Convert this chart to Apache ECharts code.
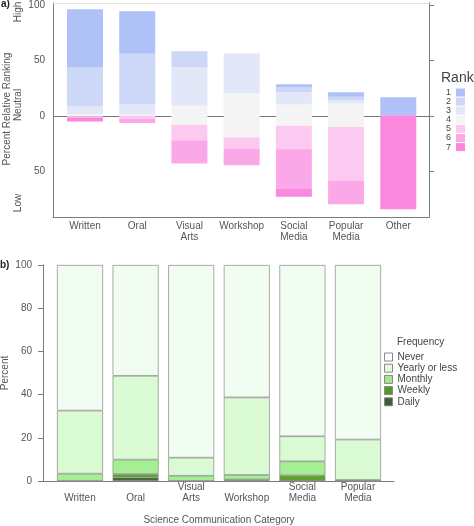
<!DOCTYPE html>
<html>
<head>
<meta charset="utf-8">
<script src="https://cdn.jsdelivr.net/npm/echarts@6/dist/echarts.min.js"></script>
<style>
  html, body { margin: 0; padding: 0; background: #fff; }
  #chart { width: 474px; height: 526px; }
</style>
</head>
<body>
<div id="chart"></div>
<script>
// a) relative ranking, percent of respondents per rank
const rankCats = ['Written', 'Oral', 'Visual\nArts', 'Workshop', 'Social\nMedia', 'Popular\nMedia', 'Other']
const rank1 = [52, 38, 0, 0, 3, 4, 16]
const rank2 = [34.6, 45, 14, 0, 3.9, 3, 0]
const rank3 = [7, 9.3, 34.6, 35.6, 11.3, 3, 0]
const rank4 = [2, 1, 17, 39.4, 19, 21, 0]
const rank5 = [0.6, 2.5, 14, 10.4, 21, 48, 0]
const rank6 = [0.5, 4, 20.8, 14.6, 35, 21, 0]
const rank7 = [3.5, 0, 0, 0, 7.5, 0, 84]
const rankTicks = [-50, 0, 50, 100]

// b) frequency of use, percent
const freqCats = ['Written', 'Oral', 'Visual\nArts', 'Workshop', 'Social\nMedia', 'Popular\nMedia']
const daily = [0, 1.7, 0, 0.3, 0, 0]
const weekly = [0, 1.5, 0, 0.4, 2.6, 0]
const monthly = [3.4, 6.7, 2.4, 2.1, 6.5, 0.5]
const yearly = [29.2, 38.8, 8.4, 35.9, 11.6, 18.7]
const never = [67.4, 51.3, 89.2, 61.3, 79.3, 80.8]

const FONT = 'Liberation Sans, Arial, sans-serif'
const TXT = '#555'
const AXC = '#7a7a7a'
const RANKC = ['#afc1f6', '#cdd7f7', '#e3e8f9', '#f4f4f4', '#fccaf0', '#fba8e8', '#fa88de']
const FREQC = { Never: '#f1fdf0', 'Yearly or less': '#dafad3', Monthly: '#a6ee94', Weekly: '#5ea32c', Daily: '#3f6b2f' }

const RMIN = -91
const RMAX = 102

function rankSeries(name, arr, color, sign) {
  return {
    name,
    type: 'bar',
    xAxisIndex: 1,
    yAxisIndex: 2,
    stack: 'rank',
    barWidth: 36,
    itemStyle: { color },
    data: arr.map(v => sign * v),
  }
}

function freqSeries(name, arr) {
  return {
    name,
    type: 'bar',
    xAxisIndex: 3,
    yAxisIndex: 4,
    stack: 'freq',
    barWidth: 46,
    itemStyle: { color: FREQC[name], borderColor: '#888', borderWidth: 0.7 },
    data: arr,
  }
}

function gtext(text, x, y, opts) {
  const el = {
    type: 'text',
    x, y,
    silent: true,
    style: Object.assign({
      text, fill: TXT, font: '10px ' + FONT, align: 'center', verticalAlign: 'middle',
    }, (opts && opts.style) || {}),
  }
  if (opts && opts.rotation) el.rotation = opts.rotation
  return el
}

const hiddenY = (gridIndex, min, max) => ({
  type: 'value', gridIndex, min, max, show: false, splitLine: { show: false },
})

const option = {
  animation: false,
  textStyle: { fontFamily: FONT },
  grid: [
    { left: 53, top: 1, width: 376, height: 216 },      // frame a
    { left: 58.9, top: 1, width: 365.5, height: 216 },  // bars a
    { left: 43, top: 265, width: 351, height: 216 },    // frame b
    { left: 52.2, top: 265, width: 333.6, height: 216 },// bars b
  ],
  xAxis: [
    {
      type: 'value', gridIndex: 0, min: 0, max: 1, position: 'bottom',
      splitLine: { show: false },
      axisLine: { show: true, onZero: false, lineStyle: { color: AXC } },
      axisTick: { show: false },
      axisLabel: { show: false },
    },
    {
      type: 'category', gridIndex: 1, data: rankCats, position: 'bottom',
      axisLine: { show: false, onZero: false },
      axisTick: { show: false },
      axisLabel: { color: TXT, fontSize: 10, lineHeight: 11, margin: 4, interval: 0 },
    },
    {
      type: 'value', gridIndex: 2, min: 0, max: 1, position: 'bottom',
      splitLine: { show: false },
      axisLine: { show: true, onZero: false, lineStyle: { color: AXC } },
      axisTick: { show: false },
      axisLabel: { show: false },
    },
    {
      type: 'category', gridIndex: 3, data: freqCats, position: 'bottom',
      axisLine: { show: false, onZero: false },
      axisTick: { show: false },
      axisLabel: {
        color: TXT, fontSize: 10, lineHeight: 11, margin: 23, verticalAlign: 'bottom', interval: 0,
      },
    },
    {
      type: 'value', gridIndex: 0, min: 0, max: 1, position: 'top',
      splitLine: { show: false },
      axisLine: { show: true, onZero: false, lineStyle: { color: '#e4e4e4' } },
      axisTick: { show: false },
      axisLabel: { show: false },
    },
  ],
  yAxis: [
    {
      type: 'value', gridIndex: 0, min: RMIN, max: RMAX, position: 'left',
      splitLine: { show: false },
      axisLine: { show: true, onZero: false, lineStyle: { color: AXC } },
      axisTick: { show: false },
      axisLabel: {
        customValues: rankTicks,
        formatter: v => String(Math.abs(v)),
        color: TXT, fontSize: 10, margin: 8,
      },
    },
    {
      type: 'value', gridIndex: 0, min: RMIN, max: RMAX, position: 'right',
      splitLine: { show: false },
      axisLine: { show: true, onZero: false, lineStyle: { color: AXC } },
      axisTick: { show: true, customValues: rankTicks, length: 5, lineStyle: { color: AXC } },
      axisLabel: { show: false },
    },
    hiddenY(1, RMIN, RMAX),
    {
      type: 'value', gridIndex: 2, min: 0, max: 100, interval: 20,
      splitLine: { show: false },
      axisLine: { show: true, onZero: false, lineStyle: { color: AXC } },
      axisTick: { show: true, length: 5, lineStyle: { color: AXC } },
      axisLabel: { color: TXT, fontSize: 10, margin: 11 },
    },
    hiddenY(3, 0, 100),
  ],
  legend: [
    {
      data: ['1', '2', '3', '4', '5', '6', '7'],
      orient: 'vertical', left: 446, top: 88, align: 'right', padding: 0,
      icon: 'rect', itemWidth: 9, itemHeight: 8, itemGap: 0.1,
      textStyle: { color: '#444', fontSize: 9, lineHeight: 8, fontFamily: FONT },
      selectedMode: false,
    },
    {
      data: [
        { name: 'Never', itemStyle: { color: '#ffffff', borderColor: '#888', borderWidth: 1 } },
        { name: 'Yearly or less', itemStyle: { color: '#e4fbe0', borderColor: '#888', borderWidth: 1 } },
        { name: 'Monthly', itemStyle: { color: '#a3e890', borderColor: '#888', borderWidth: 1 } },
        { name: 'Weekly', itemStyle: { color: '#4f9a22', borderColor: '#888', borderWidth: 1 } },
        { name: 'Daily', itemStyle: { color: '#3d5e36', borderColor: '#888', borderWidth: 1 } },
      ],
      orient: 'vertical', left: 384, top: 352, padding: 0,
      icon: 'rect', itemWidth: 8, itemHeight: 8, itemGap: 1.2,
      textStyle: { color: '#444', fontSize: 10, lineHeight: 10, fontFamily: FONT },
      selectedMode: false,
    },
  ],
  graphic: [
    gtext('a)', 1, 4, { style: { align: 'left', font: 'bold 10px ' + FONT, fill: '#222' } }),
    gtext('b)', 0, 265, { style: { align: 'left', font: 'bold 10px ' + FONT, fill: '#222' } }),
    gtext('Percent Relative Ranking', 7, 109, { rotation: Math.PI / 2 }),
    gtext('High', 18, 12, { rotation: Math.PI / 2 }),
    gtext('Neutral', 18, 105, { rotation: Math.PI / 2 }),
    gtext('Low', 18, 203, { rotation: Math.PI / 2 }),
    gtext('Rank', 441, 78, { style: { align: 'left', font: '14px ' + FONT, fill: '#444' } }),
    gtext('Percent', 5, 373, { rotation: Math.PI / 2 }),
    gtext('Frequency', 397, 342, { style: { align: 'left', fill: '#444' } }),
    gtext('Science Communication Category', 219, 520),
  ],
  series: [
    {
      type: 'line', xAxisIndex: 0, yAxisIndex: 0, data: [], z: 1,
      markLine: {
        silent: true, symbol: 'none', z: 1, label: { show: false },
        lineStyle: { color: '#777', type: 'solid', width: 1 },
        data: [{ yAxis: 0 }],
      },
    },
    rankSeries('4', rank4.map(v => v / 2), RANKC[3], 1),
    rankSeries('3', rank3, RANKC[2], 1),
    rankSeries('2', rank2, RANKC[1], 1),
    rankSeries('1', rank1, RANKC[0], 1),
    rankSeries('4', rank4.map(v => v / 2), RANKC[3], -1),
    rankSeries('5', rank5, RANKC[4], -1),
    rankSeries('6', rank6, RANKC[5], -1),
    rankSeries('7', rank7, RANKC[6], -1),
    freqSeries('Daily', daily),
    freqSeries('Weekly', weekly),
    freqSeries('Monthly', monthly),
    freqSeries('Yearly or less', yearly),
    freqSeries('Never', never),
  ],
}

const chart = echarts.init(document.getElementById('chart'))
chart.setOption(option)
</script>
</body>
</html>
